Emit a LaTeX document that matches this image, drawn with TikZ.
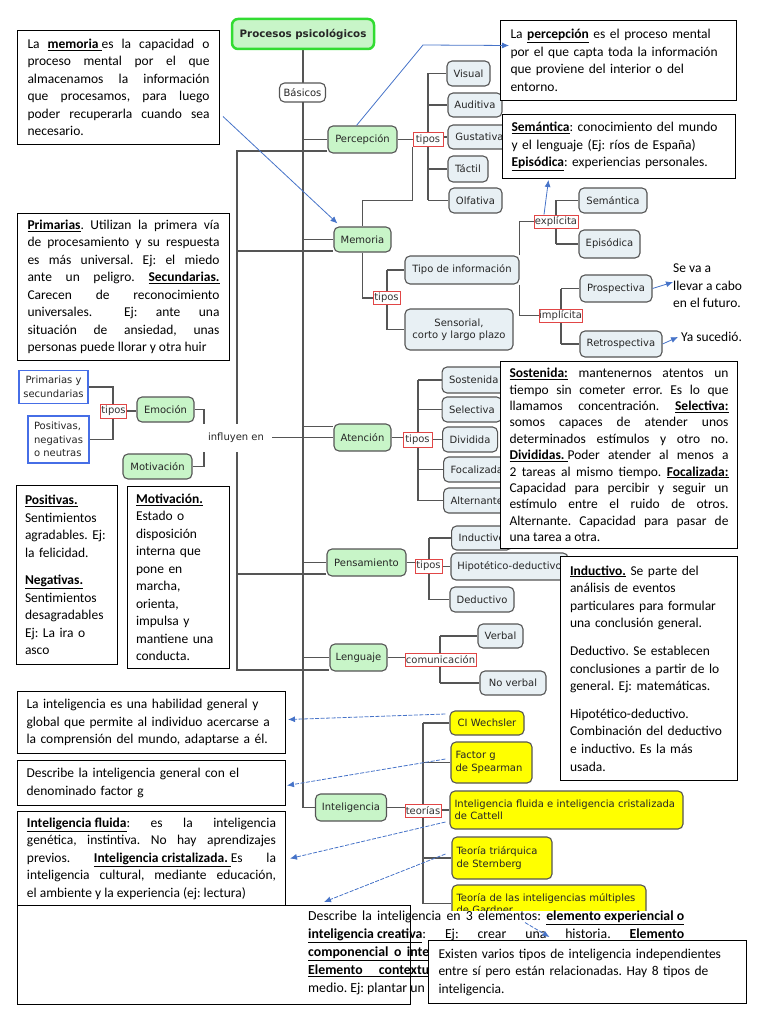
\documentclass[tikz,border=0pt]{standalone}
\usepackage{fontspec}
\setmainfont{Carlito}
\newfontfamily\mapfont{DejaVu Sans}
\usetikzlibrary{arrows.meta,backgrounds}
\frenchspacing
\definecolor{gfill}{RGB}{200,245,200}
\definecolor{sfill}{RGB}{232,240,244}
\definecolor{yfill}{RGB}{255,255,0}
\definecolor{bord}{RGB}{85,85,85}
\definecolor{tgreen}{RGB}{50,220,50}
\definecolor{labred}{RGB}{225,70,70}
\definecolor{arrblue}{RGB}{70,115,200}
\definecolor{boxblue}{RGB}{70,110,230}
\tikzset{
  mapfnt/.style={font=\mapfont\fontsize{10}{12.5}\selectfont},
  mapnode/.style={mapfnt, draw=bord, line width=1.1pt, rounded corners=5pt, inner sep=1pt, text=black!85},
  main/.style={mapnode, fill=gfill},
  sub/.style={mapnode, fill=sfill},
  yel/.style={mapnode, fill=yfill, align=left, inner xsep=4.5pt},
  lab/.style={mapfnt, draw=labred, fill=white, line width=0.8pt, inner sep=0pt, text=black!80},
  conn/.style={draw=bord, line width=1.2pt},
  barrow/.style={draw=arrblue, line width=0.8pt, -{Latex[length=7pt,width=6pt]}},
  darrow/.style={barrow, dash pattern=on 4pt off 1.5pt},
  tbox/.style={draw=black, line width=1pt, fill=white, font=\fontsize{13.5}{17.5}\selectfont, inner xsep=10pt, inner ysep=3pt, anchor=north west},
  bluebox/.style={font=\mapfont\fontsize{10}{13.5}\selectfont, draw=boxblue, line width=1.6pt, fill=white, inner sep=1pt, text=black!85},
}
\begin{document}
\begin{tikzpicture}[x=1pt,y=-1pt]
\useasboundingbox (0,0) rectangle (768,1024);
% ---------- map nodes ----------
\node[font=\mapfont\fontsize{10.3}{12}\selectfont\bfseries, draw=tgreen, line width=2.5pt, fill=gfill, rounded corners=6pt, minimum width=142pt, minimum height=30pt, text=black!85] (title) at (303,34) {Procesos psicológicos};
\node[mapnode, fill=white, minimum width=46pt, minimum height=19pt] (basicos) at (302.5,92.5) {Básicos};

\node[main, minimum width=69pt, minimum height=27pt] (perc) at (362.5,139.5) {Percepción};
\node[main, minimum width=57pt, minimum height=25pt] (mem) at (362.5,239.5) {Memoria};
\node[main, minimum width=57pt, minimum height=27pt] (aten) at (362.5,437.5) {Atención};
\node[main, minimum width=79pt, minimum height=27pt] (pens) at (366.5,562.5) {Pensamiento};
\node[main, minimum width=57pt, minimum height=27pt] (leng) at (358.5,657.5) {Lenguaje};
\node[main, minimum width=71pt, minimum height=27pt] (intel) at (351,807.5) {Inteligencia};
\node[main, minimum width=57pt, minimum height=25pt] (emo) at (165.5,409.5) {Emoción};
\node[main, minimum width=69pt, minimum height=25pt] (motv) at (157.5,466.5) {Motivación};

\node[lab, minimum width=30pt, minimum height=14pt] (tp) at (428,139.5) {tipos};
\node[lab, minimum width=27pt, minimum height=13pt] (tm) at (386.5,298) {tipos};
\node[lab, minimum width=44pt, minimum height=13pt] (expl) at (556,221.5) {explícita};
\node[lab, minimum width=43pt, minimum height=13pt] (impl) at (560.5,315.5) {implícita};
\node[lab, minimum width=26pt, minimum height=14pt] (te) at (113.5,411) {tipos};
\node[lab, minimum width=29pt, minimum height=15pt] (ta) at (417.5,439.5) {tipos};
\node[lab, minimum width=27pt, minimum height=14pt] (tpe) at (428.5,566) {tipos};
\node[lab, minimum width=71pt, minimum height=13pt] (com) at (440.5,659.5) {comunicación};
\node[lab, minimum width=36pt, minimum height=13pt] (teo) at (423,810.5) {teorías};

\node[sub, minimum width=43pt, minimum height=25pt] (vis) at (468.5,73.5) {Visual};
\node[sub, minimum width=54pt, minimum height=24pt] (aud) at (475,105) {Auditiva};
\node[sub, minimum width=63pt, minimum height=24pt] (gus) at (479.5,137) {Gustativa};
\node[sub, minimum width=40pt, minimum height=26pt] (tac) at (468,169) {Táctil};
\node[sub, minimum width=53pt, minimum height=25pt] (olf) at (475.5,200.5) {Olfativa};

\node[sub, minimum width=114pt, minimum height=28pt] (tinfo) at (462,270) {Tipo de información};
\node[sub, minimum width=108pt, minimum height=41pt, align=center] (sens) at (459,329.5) {Sensorial,\\corto y largo plazo};
\node[sub, minimum width=68pt, minimum height=25pt] (sem) at (613,200.5) {Semántica};
\node[sub, minimum width=61pt, minimum height=28pt] (epi) at (609.5,244) {Episódica};
\node[sub, minimum width=72pt, minimum height=27pt] (pros) at (616,288.5) {Prospectiva};
\node[sub, minimum width=82pt, minimum height=26pt] (retro) at (621,344) {Retrospectiva};

\node[sub, anchor=west, inner xsep=7pt, minimum height=26pt] (sost) at (441.5,380) {Sostenida};
\node[sub, anchor=west, inner xsep=7pt, minimum height=25pt] (sel) at (441.5,409.5) {Selectiva};
\node[sub, anchor=west, minimum width=55pt, minimum height=25pt] (div) at (442,439.5) {Dividida};
\node[sub, anchor=west, inner xsep=7pt, minimum height=25pt] (foc) at (443,469.5) {Focalizada};
\node[sub, anchor=west, inner xsep=7pt, minimum height=25pt] (alt) at (443,500.5) {Alternante};

\node[sub, anchor=west, inner xsep=7pt, minimum height=24pt] (ind) at (451,538) {Inductivo};
\node[sub, minimum width=117pt, minimum height=27pt] (hip) at (509.5,566.5) {Hipotético-deductivo};
\node[sub, minimum width=64pt, minimum height=25pt] (ded) at (482,599.5) {Deductivo};

\node[sub, minimum width=45pt, minimum height=24pt] (verb) at (500.5,636) {Verbal};
\node[sub, minimum width=66pt, minimum height=24pt] (nverb) at (513,683) {No verbal};

\node[yel, minimum width=74pt, minimum height=24pt] (ci) at (487,723) {CI Wechsler};
\node[yel, text width=72pt, minimum height=41pt] (fg) at (491.5,762.5) {Factor g\\de Spearman};
\node[yel, text width=224pt, minimum height=38pt] (cat) at (566.5,810) {Inteligencia fluida e inteligencia cristalizada\\de Cattell};
\node[yel, text width=91pt, minimum height=42pt] (stern) at (502,858) {Teoría triárquica\\de Sternberg};
\node[yel, text width=185pt, minimum height=37pt] (gard) at (549,903.5) {Teoría de las inteligencias múltiples\\de Gardner};

\node[bluebox, minimum width=69pt, minimum height=33pt, align=center] (pys) at (53.5,387) {Primarias y\\secundarias};
\node[bluebox, minimum width=61pt, minimum height=47pt, align=left] (pn) at (58.5,439.5) {Positivas,\\negativas\\o neutras};
\node[mapfnt, fill=white, minimum width=72pt, minimum height=28pt, inner sep=0pt, text=black!85] (influ) at (236,437.5) {influyen en};

\node[anchor=north west, font=\fontsize{13.5}{17.5}\selectfont, align=left, inner sep=0pt] (seva) at (673,264) {Se va a\\llevar a cabo\\en el futuro.};
\node[anchor=west, font=\fontsize{13.5}{17.5}\selectfont, inner sep=0pt] (ya) at (681,337) {Ya sucedió.};

% ---------- connectors ----------
\begin{scope}[on background layer]
  \coordinate (bb) at (237,0);
  \coordinate (pl) at ([yshift=-11.5pt]perc.west);
  \coordinate (ml) at ([yshift=-11.5pt]mem.west);
  \coordinate (al) at ([yshift=11pt]aten.west);
  \coordinate (pel) at ([yshift=-11.5pt]pens.west);
  \coordinate (ll) at ([yshift=-12.5pt]leng.west);
  \draw[conn] (title.south) -- (title.south |- intel.west) -- (intel.west);
  \draw[conn] (perc.west -| title.south) -- (perc.west);
  \draw[conn] (mem.west -| title.south) -- (mem.west);
  \draw[conn] (al -| title.south) -- (al);
  \draw[conn] (pens.west -| title.south) -- (pens.west);
  \draw[conn] (leng.west -| title.south) -- (leng.west);
  \draw[conn] (pl) -- (pl -| bb) -- (ll -| bb) -- (ll);
  \draw[conn] (ml -| bb) -- (ml);
  \draw[conn] (pel -| bb) -- (pel);
  % percepcion
  \coordinate (pb) at (428,0);
  \draw[conn] (vis.west -| pb) -- (olf.west -| pb);
  \foreach \n in {vis,aud,gus,tac,olf} {\draw[conn] (\n.west -| pb) -- (\n.west);}
  \draw[conn] (perc.east) -- (tp.west);
  \draw[conn] (tp.south west) -- ++(0,53.5) -| (mem.north);
  % memoria
  \draw[conn] (mem.south) |- (tm.west);
  \coordinate (mb) at (387,0);
  \draw[conn] (tinfo.west -| mb) -- (sens.west -| mb);
  \draw[conn] (tinfo.west -| mb) -- (tinfo.west);
  \draw[conn] (sens.west -| mb) -- (sens.west);
  \draw[conn] (tinfo.north east) |- (expl.west);
  \draw[conn] (tinfo.south east) |- (impl.west);
  \coordinate (exb) at (556,0);
  \draw[conn] (sem.west -| exb) -- (epi.west -| exb);
  \draw[conn] (sem.west -| exb) -- (sem.west);
  \draw[conn] (epi.west -| exb) -- (epi.west);
  \coordinate (imb) at (561,0);
  \draw[conn] (pros.west -| imb) -- (retro.west -| imb);
  \draw[conn] (pros.west -| imb) -- (pros.west);
  \draw[conn] (retro.west -| imb) -- (retro.west);
  % emocion
  \coordinate (ebr) at (113,0);
  \draw[conn] (pys.east) -- (pys.east -| ebr) -- (pn.east -| ebr) -- (pn.east);
  \draw[conn] (te.east) -- (te.east -| emo.west);
  \coordinate (ibr) at (204,0);
  \draw[conn] (emo.east) -- (emo.east -| ibr) -- (motv.east -| ibr) -- (motv.east);
  \draw[conn] (influ.east) -- (aten.west);
  % atencion
  \draw[conn] (aten.east) -- (aten.east -| ta.west);
  \coordinate (ab) at (418,0);
  \draw[conn] (sost.west -| ab) -- (alt.west -| ab);
  \foreach \n in {sost,sel,div,foc,alt} {\draw[conn] (\n.west -| ab) -- (\n.west);}
  % pensamiento
  \draw[conn] (pens.east) -- (pens.east -| tpe.west);
  \coordinate (peb) at (429,0);
  \draw[conn] (ind.west -| peb) -- (ded.west -| peb);
  \foreach \n in {ind,hip,ded} {\draw[conn] (\n.west -| peb) -- (\n.west);}
  % lenguaje
  \draw[conn] (leng.east) -- (leng.east -| com.west);
  \coordinate (lb) at (440,0);
  \draw[conn] (verb.west -| lb) -- (nverb.west -| lb);
  \foreach \n in {verb,nverb} {\draw[conn] (\n.west -| lb) -- (\n.west);}
  % inteligencia
  \draw[conn] (intel.east) -- (intel.east -| teo.west);
  \coordinate (tb) at (423,0);
  \draw[conn] (ci.west -| tb) -- (gard.west -| tb);
  \foreach \n in {ci,fg,cat,stern,gard} {\draw[conn] (\n.west -| tb) -- (\n.west);}
\end{scope}

% ---------- text boxes ----------
\node[tbox, minimum width=202pt, minimum height=114pt, text width=182pt, align=justify] (membox) at (17,30) {La \underline{\textbf{memoria\ }}es la capacidad o\linebreak proceso mental por el que\linebreak almacenamos la información\linebreak que procesamos, para luego\linebreak poder recuperarla cuando sea\linebreak necesario.};

\node[tbox, minimum width=236pt, minimum height=80pt, text width=216pt, align=left] (percbox) at (500,20) {La \underline{\textbf{percepción}} es el proceso mental\\por el que capta toda la información\\que proviene del interior o del\\entorno.};

\node[tbox, minimum width=233pt, minimum height=64pt, text width=215pt, inner xsep=9pt, align=left] (sembox) at (502,114) {\mbox{\underline{\textbf{Semántica}}: conocimiento del mundo}\\y el lenguaje (Ej: ríos de España)\\\underline{\textbf{Episódica}}: experiencias personales.};

\node[tbox, minimum width=212pt, minimum height=147pt, text width=192pt, align=justify] (primbox) at (17,213) {\underline{\textbf{Primarias}}. Utilizan la primera vía\linebreak de procesamiento y su respuesta\linebreak es más universal. Ej: el miedo\linebreak ante un peligro. \underline{\textbf{Secundarias.}}\linebreak Carecen de reconocimiento\linebreak universales.\quad\ Ej: ante una\linebreak situación de ansiedad, unas\linebreak \mbox{personas puede llorar y otra huir}};

\node[tbox, inner xsep=8.5pt, minimum width=101pt, minimum height=179pt, text width=84pt, align=left] (posbox) at (16,485) {\underline{\textbf{Positivas.}}\\Sentimientos\\\mbox{agradables. Ej:}\\la felicidad.\\[10pt]\underline{\textbf{Negativas.}}\\Sentimientos\\\mbox{desagradables}\\Ej: La ira o\\asco};

\node[tbox, inner xsep=8.5pt, minimum width=102pt, minimum height=182pt, text width=85pt, align=left] (motbox) at (127,486) {\underline{\textbf{Motivación.}}\\Estado o\\disposición\\interna que\\pone en\\marcha,\\orienta,\\impulsa y\\\mbox{mantiene una}\\conducta.};

\node[tbox, inner xsep=9pt, minimum width=237pt, minimum height=187pt, text width=219pt, align=justify, font=\fontsize{13.5}{16.4}\selectfont] (sostbox) at (500,361) {\underline{\textbf{Sostenida:}} mantenernos atentos un\linebreak tiempo sin cometer error. Es lo que\linebreak llamamos concentración. \underline{\textbf{Selectiva:}}\linebreak somos capaces de atender unos\linebreak determinados estímulos y otro no.\linebreak \underline{\textbf{Divididas.\ }}Poder atender al menos a\linebreak 2 tareas al mismo tiempo. \underline{\textbf{Focalizada:}}\linebreak Capacidad para percibir y seguir un\linebreak estímulo entre el ruido de otros.\linebreak Alternante. Capacidad para pasar de\linebreak una tarea a otra.};

\node[tbox, minimum width=177pt, minimum height=224pt, text width=158pt, inner xsep=9.5pt, align=left, font=\fontsize{13.5}{17.6}\selectfont] (indbox) at (560,556) {\underline{\textbf{Inductivo.}} Se parte del\\análisis de eventos\\\mbox{particulares para formular}\\una conclusión general.\\[10pt]Deductivo. Se establecen\\\mbox{conclusiones a partir de lo}\\general. Ej: matemáticas.\\[10pt]Hipotético-deductivo.\\\mbox{Combinación del deductivo}\\e inductivo. Es la más\\usada.};

\node[tbox, minimum width=268pt, minimum height=62pt, text width=250pt, inner xsep=9pt, align=left] (boxA) at (17,691) {La inteligencia es una habilidad general y\\\mbox{global que permite al individuo acercarse a}\\la comprensión del mundo, adaptarse a él.};

\node[tbox, minimum width=268pt, minimum height=45pt, text width=250pt, inner xsep=9pt, align=left] (boxB) at (17,760) {Describe la inteligencia general con el\\denominado factor g};

\node[tbox, minimum width=268pt, minimum height=94pt, text width=249pt, inner xsep=9.5pt, align=justify] (boxC) at (17,811) {\underline{\textbf{Inteligencia fluida}}: es la inteligencia\linebreak genética, instintiva. No hay aprendizajes\linebreak previos. \underline{\textbf{Inteligencia cristalizada.\ }}Es la\linebreak inteligencia cultural, mediante educación,\linebreak el ambiente y la experiencia (ej: lectura)};

\node[anchor=north west, fill=white, inner sep=0pt, text width=376pt, align=justify, font=\fontsize{13.8}{18}\selectfont] (dtext) at (308,911) {Describe la inteligencia en 3 elementos: \underline{\textbf{elemento experiencial o}}\linebreak \underline{\textbf{inteligencia creativa}}: Ej: crear una historia. \underline{\textbf{Elemento}}\linebreak \underline{\makebox[121pt][s]{\textbf{componencial o inte}}}\\\underline{\makebox[121pt][s]{\textbf{Elemento contextu}}}\\medio. Ej: plantar un};

\node[draw=black, line width=1pt, minimum width=393pt, minimum height=99pt, anchor=north west, inner sep=0pt] (boxD) at (17,905) {};

\node[tbox, minimum width=318pt, minimum height=63pt, text width=298pt, align=left] (boxE) at (428,940) {Existen varios tipos de inteligencia independientes\\entre sí pero están relacionadas. Hay 8 tipos de\\inteligencia.};

% ---------- blue arrows ----------
\coordinate (pm) at (423,45);
\draw[barrow] ([xshift=3pt,yshift=-29pt]membox.east) -- ([xshift=4pt,yshift=3pt]mem.north west);
\draw[barrow] ([xshift=-6pt]perc.north) -- (pm) -- ([xshift=9pt,yshift=15pt]percbox.west);
\draw[barrow] ([xshift=-12pt]expl.north) -- ([xshift=-70.5pt,yshift=-1pt]sembox.south);
\draw[barrow] (pros.east) -- ([yshift=4pt]seva.west);
\draw[barrow] (retro.east) -- ([xshift=-3pt]ya.west);
\draw[darrow] ([xshift=-4pt,yshift=9pt]ci.west) -- ([xshift=2pt,yshift=3pt]boxA.east);
\draw[darrow] ([xshift=-5pt,yshift=3.5pt]fg.west) -- ([xshift=1pt,yshift=-2.5pt]boxB.east);
\draw[darrow] ([xshift=-4pt,yshift=-12pt]cat.west) -- ([xshift=4pt]boxC.east);
\draw[darrow] ([xshift=-6pt,yshift=4pt]stern.west) -- ([xshift=110pt,yshift=3pt]boxD.north);
\draw[darrow] ([xshift=-24pt]gard.south) -- ([xshift=-38pt,yshift=3pt]boxE.north);
\end{tikzpicture}
\end{document}
